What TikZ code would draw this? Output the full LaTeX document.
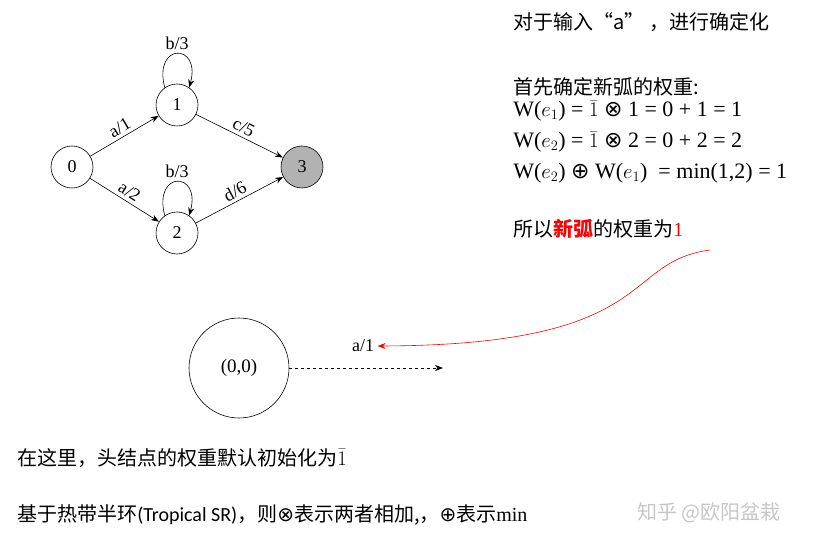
\documentclass[tikz,border=0pt]{standalone}
\usepackage{fontspec}
\setmainfont{Liberation Serif}
\newfontfamily\cjk{Noto Sans CJK SC}
\newfontfamily\carl{Carlito}
\newfontfamily\symf{DejaVu Sans}
\newcommand{\otm}{{\symf ⊗}}
\newcommand{\opl}{{\symf ⊕}}
\usetikzlibrary{arrows.meta}
\begin{document}
\begin{tikzpicture}[x=1pt,y=-1pt,line width=0.6pt,
  st/.style={circle,draw,minimum size=42pt,inner sep=0pt,font=\fontsize{18}{18}\selectfont},
  el/.style={font=\fontsize{18}{18}\selectfont},
  tx/.style={anchor=west,inner sep=0pt,font=\fontsize{20}{22}\selectfont},
  fx/.style={anchor=west,inner sep=0pt,font=\fontsize{22}{24}\selectfont},
  ar/.style={-{Stealth[length=8pt,width=6pt]}}]
\useasboundingbox (0,0) rectangle (834,545);
\node[st] (n0) at (72,167) {0};
\node[st] (n1) at (177,105) {1};
\node[st] (n2) at (177,233) {2};
\node[st,fill=gray!60] (n3) at (302,167) {3};
\draw[ar] (n0) -- node[el,sloped,above] {a/1} (n1);
\draw[ar] (n0) -- node[el,sloped,above] {a/2} (n2);
\draw[ar] (n1) -- node[el,sloped,above] {c/5} (n3);
\draw[ar] (n2) -- node[el,sloped,above] {d/6} (n3);
\draw[ar] (n1.125) .. controls +(-12,-45) and +(12,-45) .. node[el,above] {b/3} (n1.55);
\draw[ar] (n2.125) .. controls +(-12,-45) and +(12,-45) .. node[el,above] {b/3} (n2.55);
\node[circle,draw,minimum size=100pt,font=\fontsize{19}{19}\selectfont] (big) at (239,368) {(0,0)};
\coordinate (dend) at (443,368);
\draw[dashed,ar] (big) -- (dend);
\node[el] (lab) at (363,346) {a/1};
\node[tx] (t1) at (513,22) {\cjk 对于输入“a” ，进行确定化};
\node[tx] (t2) at (513,87) {\cjk 首先确定新弧的权重:};
\node[fx] (f1) at (513,111) {W($e_1$) = $\bar{1}$ \otm\ 1 = 0 + 1 = 1};
\node[fx] (f2) at (513,142) {W($e_2$) = $\bar{1}$ \otm\ 2 = 0 + 2 = 2};
\node[fx] (f3) at (513,173) {W($e_2$) \opl\ W($e_1$) \ = min(1,2) = 1};
\node[tx] (t3) at (513,229) {{\cjk 所以\textcolor{red}{\bfseries 新弧}的权重为}\textcolor{red}{1}};
\coordinate (cs) at (710,250);
\draw[red,ar] (cs) .. controls (620,262) and (660,345) .. (lab.east);
\node[tx] (b1) at (17,458) {\cjk 在这里，头结点的权重默认初始化为$\bar{1}$};
\node[tx] (b2) at (17,515) {{\cjk 基于热带半环}{\carl (Tropical SR)}{\cjk ，则}\otm{\cjk 表示两者相加,，}\opl{\cjk 表示}min};
\node[tx,text=gray!45] (wm) at (637,513) {\cjk 知乎 @欧阳盆栽};
\end{tikzpicture}
\end{document}
